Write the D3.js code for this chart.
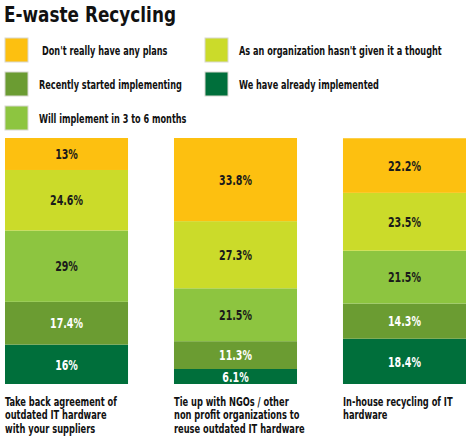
<!DOCTYPE html>
<html>
<head>
<meta charset="utf-8">
<script src="https://cdn.jsdelivr.net/npm/d3@7"></script>
<style>
  body { margin: 0; background: #fff; }
  text { font-family: "Liberation Sans Narrow", "DejaVu Sans Condensed", "DejaVu Sans", sans-serif; font-weight: bold; font-stretch: condensed; }
</style>
</head>
<body>
<div id="chart"></div>
<script>
// E-waste recycling: 100% stacked bars, three initiatives

const categories = [
  "Take back agreement of|outdated IT hardware|with your suppliers",
  "Tie up with NGOs / other|non profit organizations to|reuse outdated IT hardware",
  "In-house recycling of IT|hardware"
];

// stack order from bottom to top
const seriesNames = [
  "We have already implemented",
  "Recently started implementing",
  "Will implement in 3 to 6 months",
  "As an organization hasn't given it a thought",
  "Don't really have any plans"
];

const alreadyImplemented = [16, 6.1, 18.4];
const recentlyStarted   = [17.4, 11.3, 14.3];
const willImplement     = [29, 21.5, 21.5];
const notGivenThought   = [24.6, 27.3, 23.5];
const noPlans           = [13, 33.8, 22.2];

const seriesValues = [alreadyImplemented, recentlyStarted, willImplement, notGivenThought, noPlans];

const colors = ["#006f3b", "#6b9c32", "#8dc540", "#cbdb2a", "#fdc010"];
const labelColors = ["#fff", "#fff", "#1a1a1a", "#1a1a1a", "#1a1a1a"];

// legend layout: [series index, column, row]
const legendItems = [[4, 0, 0], [3, 1, 0], [1, 0, 1], [0, 1, 1], [2, 0, 2]];

const width = 470, height = 436;

const svg = d3.select("#chart")
  .append("svg")
  .attr("width", width)
  .attr("height", height);

// the installed fonts are wider than the original condensed face,
// so squeeze text horizontally to the measured widths
function squeeze(str, size, target) {
  const t = svg.append("text").attr("font-size", size).text(str);
  const w = t.node().getComputedTextLength();
  t.remove();
  return Math.min(1, target / w);
}

const titleK = squeeze("E-waste Recycling", 22, 172);
const legendK = squeeze("As an organization hasn't given it a thought", 12.5, 203);
const valueK = squeeze("24.6%", 14.5, 33);
const catK = squeeze("Take back agreement of", 12.5, 112);

// title
svg.append("text")
  .attr("transform", `translate(4,22) scale(${titleK},1)`)
  .attr("font-size", 22)
  .attr("fill", "#111")
  .text("E-waste Recycling");

// legend
const legend = svg.selectAll(".legend")
  .data(legendItems)
  .enter()
  .append("g")
  .attr("class", "legend")
  .attr("transform", d => `translate(${d[1] === 0 ? 5 : 205},${38 + d[2] * 34})`);

legend.append("rect")
  .attr("width", 23)
  .attr("height", 24)
  .attr("fill", d => colors[d[0]])
  .attr("stroke", "#d8d8d0")
  .attr("stroke-width", 1);

legend.append("text")
  .attr("transform", d => `translate(${d[0] === 4 ? 37 : 34},12) scale(${legendK},1)`)
  .attr("dy", "0.36em")
  .attr("font-size", 12.5)
  .attr("fill", "#111")
  .text(d => seriesNames[d[0]]);

// data table for the stack
const table = categories.map((c, i) => {
  const row = {category: c};
  seriesNames.forEach((s, j) => row[s] = seriesValues[j][i]);
  return row;
});

const stacked = d3.stack().keys(seriesNames)(table);

const x = d3.scaleBand()
  .domain(categories)
  .range([5, 466])
  .paddingInner(0.272)
  .paddingOuter(0);

const y = d3.scaleLinear()
  .domain([0, 100])
  .range([384, 138]);

const layers = svg.selectAll(".layer")
  .data(stacked)
  .enter()
  .append("g")
  .attr("class", "layer")
  .attr("fill", (d, i) => colors[i]);

layers.selectAll("rect")
  .data(d => d)
  .enter()
  .append("rect")
  .attr("x", d => x(d.data.category))
  .attr("width", x.bandwidth())
  .attr("y", d => y(d[1]))
  .attr("height", d => y(d[0]) - y(d[1]));

// value labels
layers.selectAll(".val")
  .data((d, i) => d.map(p => ({p: p, i: i})))
  .enter()
  .append("text")
  .attr("class", "val")
  .attr("transform", d => `translate(${x(d.p.data.category) + x.bandwidth() / 2},${(y(d.p[0]) + y(d.p[1])) / 2}) scale(${valueK},1)`)
  .attr("dy", "0.36em")
  .attr("text-anchor", "middle")
  .attr("font-size", 14.5)
  .attr("fill", d => labelColors[d.i])
  .text(d => (d.p[1] - d.p[0]).toFixed(1).replace(/\.0$/, "") + "%");

// category labels below bars
const cat = svg.selectAll(".cat")
  .data(categories)
  .enter()
  .append("text")
  .attr("class", "cat")
  .attr("transform", d => `translate(${x(d)},401) scale(${catK},1)`)
  .attr("font-size", 12.5)
  .attr("fill", "#111");

cat.selectAll("tspan")
  .data(d => d.split("|"))
  .enter()
  .append("tspan")
  .attr("x", 0)
  .attr("dy", (d, i) => i === 0 ? "0.36em" : 14)
  .text(d => d);
</script>
</body>
</html>
